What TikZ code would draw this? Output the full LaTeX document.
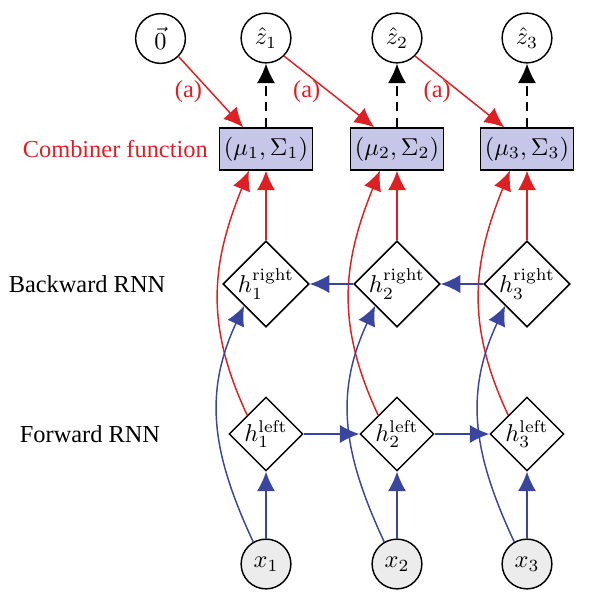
\documentclass[tikz,border=0pt]{standalone}
\usepackage[no-math]{fontspec}
\setmainfont{Liberation Serif}
\usetikzlibrary{shapes.geometric,arrows.meta}
\definecolor{combred}{RGB}{222,32,36}
\definecolor{rnnblue}{RGB}{58,70,158}
\definecolor{boxfill}{RGB}{198,198,232}
\definecolor{obsfill}{RGB}{236,236,236}
\begin{document}
\begin{tikzpicture}[x=0.41pt,y=-0.41pt,
    circ/.style={circle,draw,semithick,minimum size=20.4pt,inner sep=0pt},
    hright/.style={diamond,draw,semithick,minimum size=35.3pt,inner sep=0pt},
    hleft/.style={diamond,draw,semithick,minimum size=30.3pt,inner sep=0pt},
    comb/.style={draw,semithick,fill=boxfill,minimum width=38.1pt,minimum height=17.2pt,inner sep=1pt},
    redarr/.style={combred,semithick,-{Latex[length=8pt,width=7.5pt]}},
    bluearr/.style={rnnblue,semithick,-{Latex[length=8pt,width=7.5pt]}},
    samplearr/.style={black,thick,dash pattern=on 4pt off 2.5pt,-{Latex[length=8pt,width=7.5pt]}}]
  \useasboundingbox (0,0) rectangle (592,603);
  \node[circ] (zero) at (160.5,38.5) {$\vec{0}$};
  \foreach \i/\x in {1/266,2/397,3/527} {
    \node[circ] (z\i) at (\x,38) {$\hat{z}_\i$};
    \node[comb] (c\i) at (\x,149) {$(\mu_\i,\Sigma_\i)$};
    \node[hright] (hr\i) at (\x,284) {$h_\i^{\mathrm{right}}$};
    \node[hleft] (hl\i) at (\x,434) {$h_\i^{\mathrm{left}}$};
    \node[circ,fill=obsfill] (x\i) at (\x,564) {$x_\i$};
  }
  % row labels
  \node[combred,left=1pt] (comblabel) at (c1.west) {Combiner function};
  \node (bwdlabel) at (87,284) {Backward RNN};
  \node (fwdlabel) at (90,434) {Forward RNN};
  % per column
  \foreach \i in {1,2,3} {
    \draw[samplearr] (c\i.north) -- (z\i.south);
    \draw[redarr] (hr\i.north) -- (c\i.south);
    \draw[redarr] (hl\i.north west) to[out=115,in=-112,looseness=1.05] ([xshift=-7pt]c\i.south);
    \draw[bluearr] (x\i.north) -- (hl\i.south);
    \draw[bluearr] (x\i.120) to[out=115,in=-115,looseness=1.05] (hr\i.south west);
  }
  % recurrences
  \draw[bluearr] (hl1.east) -- (hl2.west);
  \draw[bluearr] (hl2.east) -- (hl3.west);
  \draw[bluearr] (hr2.west) -- (hr1.east);
  \draw[bluearr] (hr3.west) -- (hr2.east);
  % previous sample into combiner
  \draw[redarr] (zero.south east) -- ([xshift=10pt]c1.north west) node[midway,left] {(a)};
  \draw[redarr] (z1.south east) -- ([xshift=10pt]c2.north west) node[midway,left] {(a)};
  \draw[redarr] (z2.south east) -- ([xshift=10pt]c3.north west) node[midway,left] {(a)};
\end{tikzpicture}
\end{document}
